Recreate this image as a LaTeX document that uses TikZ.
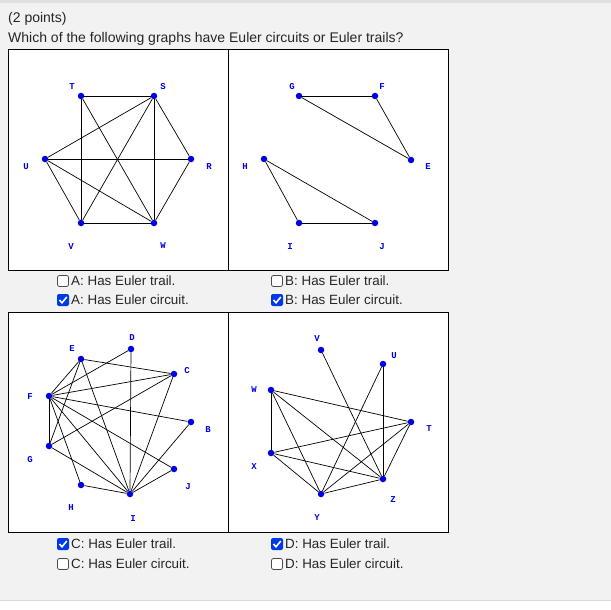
\documentclass[tikz,border=0pt]{standalone}
\usepackage{fontspec}
\setmainfont{Liberation Sans}
\newfontfamily\lblfont{Liberation Mono}
\begin{document}
\begin{tikzpicture}[x=1pt,y=-1pt,
  vtx/.style={circle,fill=blue!90!black,inner sep=0pt,minimum size=6.5pt},
  lbl/.style={font=\lblfont\bfseries\fontsize{9}{9}\selectfont,text=blue!90!black},
  edge/.style={draw=black,line width=0.7pt},
  panel/.style={draw=black,fill=white,line width=1pt},
  txt/.style={anchor=west,font=\fontsize{13.4}{15}\selectfont,text=black!85,inner sep=0pt},
  htxt/.style={anchor=west,font=\fontsize{14}{16}\selectfont,text=black!85,inner sep=0pt},
  box/.style={draw=black!70,fill=white,rounded corners=2pt,line width=0.8pt,minimum size=11pt,inner sep=0pt},
  cbox/.style={fill=blue!75!cyan!90!black,rounded corners=2pt,minimum size=12pt,inner sep=0pt}]
\useasboundingbox (0,0) rectangle (611,610);
\fill[white] (0,0) rectangle (611,610);
\fill[black!12] (0,0) rectangle (611,3);
\fill[black!5] (0,3) rectangle (611,600);
\draw[black!15] (0,600.5) -- (611,600.5);
\node[htxt] (h1) at (8,19) {(2 points)};
\node[htxt] (h2) at (8,39) {Which of the following graphs have Euler circuits or Euler trails?};
\draw[panel] (8,50) rectangle (228,270);
\draw[panel] (228,50) rectangle (448,270);
\draw[panel] (8,312) rectangle (228,532);
\draw[panel] (228,312) rectangle (448,532);
% Panel A
\node[vtx] (aT) at (81,96) {}; \node[vtx] (aS) at (154,96) {};
\node[vtx] (aU) at (45,159) {}; \node[vtx] (aR) at (191,159) {};
\node[vtx] (aV) at (81,223) {}; \node[vtx] (aW) at (154,223) {};
\node[lbl] at (72,87) {T}; \node[lbl] at (163,87) {S}; \node[lbl] at (26,167) {U};
\node[lbl] at (209,167) {R}; \node[lbl] at (71,247) {V}; \node[lbl] at (163,246) {W};
\foreach \a/\b in {aT/aS,aT/aV,aT/aW,aS/aU,aS/aR,aS/aW,aS/aV,aU/aR,aU/aV,aU/aW,aV/aW,aW/aR}
  \draw[edge] (\a) -- (\b);
% Panel B
\node[vtx] (bG) at (299,96) {}; \node[vtx] (bF) at (375,96) {};
\node[vtx] (bE) at (411,160) {}; \node[vtx] (bH) at (264,159) {};
\node[vtx] (bI) at (299,223) {}; \node[vtx] (bJ) at (375,223) {};
\node[lbl] at (292,87) {G}; \node[lbl] at (382,87) {F}; \node[lbl] at (428,167) {E};
\node[lbl] at (245,167) {H}; \node[lbl] at (290,247) {I}; \node[lbl] at (382,247) {J};
\foreach \a/\b in {bG/bF,bG/bE,bF/bE,bH/bI,bH/bJ,bI/bJ}
  \draw[edge] (\a) -- (\b);
% Panel C
\node[vtx] (cD) at (131,349) {}; \node[vtx] (cE) at (81,359) {};
\node[vtx] (cC) at (174,374) {}; \node[vtx] (cF) at (49,396) {};
\node[vtx] (cB) at (191,422) {}; \node[vtx] (cG) at (49,446) {};
\node[vtx] (cJ) at (174,469) {}; \node[vtx] (cH) at (81,485) {};
\node[vtx] (cI) at (130,494) {};
\node[lbl] at (132,338) {D}; \node[lbl] at (72,349) {E}; \node[lbl] at (187,371) {C};
\node[lbl] at (30,397) {F}; \node[lbl] at (208,430) {B}; \node[lbl] at (30,460) {G};
\node[lbl] at (71,508) {H}; \node[lbl] at (133,519) {I}; \node[lbl] at (188,487) {J};
\foreach \a/\b in {cE/cC,cE/cF,cE/cG,cE/cI,cD/cF,cD/cI,cC/cF,cC/cG,cC/cI,cF/cB,cF/cG,cF/cH,cF/cI,cF/cJ,cG/cI,cH/cI,cB/cI,cJ/cI}
  \draw[edge] (\a) -- (\b);
% Panel D
\node[vtx] (dV) at (321,350) {}; \node[vtx] (dU) at (383,364) {};
\node[vtx] (dW) at (271,390) {}; \node[vtx] (dT) at (411,422) {};
\node[vtx] (dX) at (271,453) {}; \node[vtx] (dZ) at (383,479) {};
\node[vtx] (dY) at (321,494) {};
\node[lbl] at (317,339) {V}; \node[lbl] at (394,356) {U}; \node[lbl] at (254,390) {W};
\node[lbl] at (429,429) {T}; \node[lbl] at (254,467) {X}; \node[lbl] at (393,500) {Z};
\node[lbl] at (317,518) {Y};
\foreach \a/\b in {dV/dZ,dU/dZ,dU/dY,dW/dX,dW/dT,dW/dY,dW/dZ,dX/dT,dX/dZ,dX/dY,dY/dT,dY/dZ,dZ/dT}
  \draw[edge] (\a) -- (\b);
% checkboxes
\newcommand\unchk[3]{\node[box] (#1) at (#2) {}; \node[txt] at ([xshift=8pt]#2) {#3};}
\newcommand\chk[3]{\node[cbox] (#1) at (#2) {}; \draw[white,line width=1.6pt] ([xshift=-3.5pt,yshift=0pt]#2) -- ([xshift=-1pt,yshift=-2.8pt]#2) -- ([xshift=3.8pt,yshift=3pt]#2); \node[txt] at ([xshift=8pt]#2) {#3};}
\unchk{ka1}{63,281}{A: Has Euler trail.}
\chk{ka2}{63,300}{A: Has Euler circuit.}
\unchk{kb1}{277,281}{B: Has Euler trail.}
\chk{kb2}{277,300}{B: Has Euler circuit.}
\chk{kc1}{63,544}{C: Has Euler trail.}
\unchk{kc2}{63,564}{C: Has Euler circuit.}
\chk{kd1}{277,544}{D: Has Euler trail.}
\unchk{kd2}{277,564}{D: Has Euler circuit.}
\end{tikzpicture}
\end{document}
